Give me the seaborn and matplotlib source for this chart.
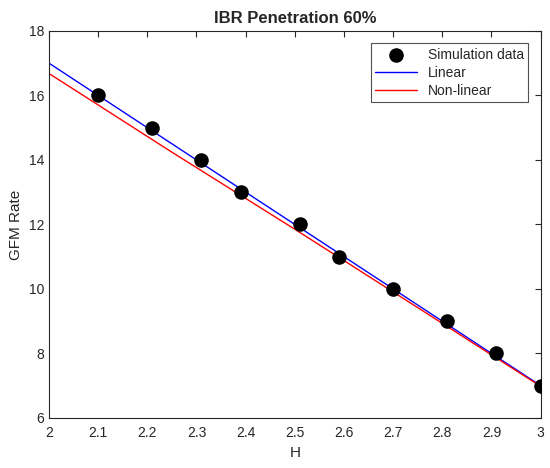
import numpy as np
import pandas as pd
import matplotlib
matplotlib.use('Agg')
import matplotlib.pyplot as plt
import seaborn as sns

# simulation points
h_sim = [2.10, 2.21, 2.31, 2.39, 2.51, 2.59, 2.70, 2.81, 2.91, 3.00]
rate_sim = [16, 15, 14, 13, 12, 11, 10, 9, 8, 7]

# fitted curves
h_fit = [2.0, 2.25, 2.5, 2.75, 3.0]
rate_lin = [17.0, 14.5, 12.0, 9.5, 7.0]
rate_nonlin = [16.68, 14.24, 11.85, 9.42, 6.98]

sim_df = pd.DataFrame({'H': h_sim, 'rate': rate_sim})
fit_df = pd.DataFrame({'H': h_fit, 'lin': rate_lin, 'nonlin': rate_nonlin})

sns.set_style('white')
plt.rcParams['font.family'] = ['Liberation Sans', 'DejaVu Sans']

fig = plt.figure(figsize=(5.5, 4.68), dpi=100)
ax = fig.add_axes([0.089, 0.107, 0.894, 0.827])

sns.scatterplot(data=sim_df, x='H', y='rate', ax=ax, color='black', s=110,
                edgecolor='black', linewidth=0, label='Simulation data', zorder=3)
sns.lineplot(data=fit_df, x='H', y='lin', ax=ax, color='blue', linewidth=1.0, label='Linear')
sns.lineplot(data=fit_df, x='H', y='nonlin', ax=ax, color='red', linewidth=1.0, label='Non-linear')

ax.set_xlim(2, 3)
ax.set_ylim(6, 18)
ax.set_xticks(np.arange(2, 3.01, 0.1))
ax.set_xticklabels(['2', '2.1', '2.2', '2.3', '2.4', '2.5', '2.6', '2.7', '2.8', '2.9', '3'])
ax.set_yticks([6, 8, 10, 12, 14, 16, 18])
ax.tick_params(direction='in', length=4, width=0.8, colors='#262626', labelsize=10,
               top=True, right=True, labelcolor='#262626')
ax.tick_params(axis='x', pad=6)
for sp in ax.spines.values():
    sp.set_color('#262626')
    sp.set_linewidth(0.8)

ax.set_xlabel('H', fontsize=11, color='#262626')
ax.set_ylabel('GFM Rate', fontsize=11, color='#262626')
ax.set_title('IBR Penetration 60%', fontsize=12, fontweight='bold', pad=6)

leg = ax.legend(loc='upper right', fontsize=10, frameon=True, fancybox=False,
                edgecolor='#262626', borderaxespad=0.9, handlelength=3.0,
                labelspacing=0.3, borderpad=0.3)
leg.get_frame().set_linewidth(0.8)

fig.savefig('out.png', dpi=100)
